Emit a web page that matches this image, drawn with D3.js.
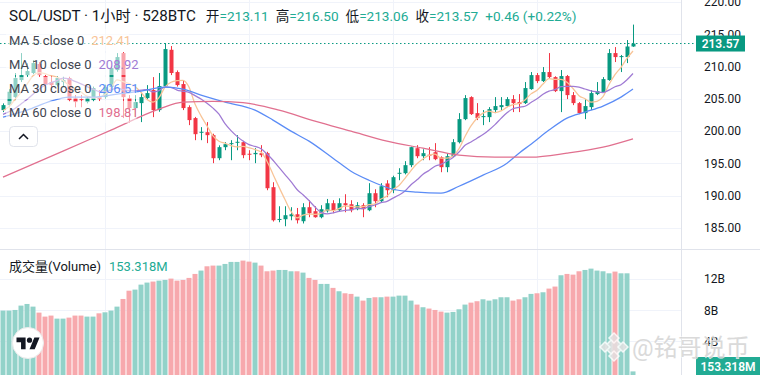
<!DOCTYPE html>
<html>
<head>
<meta charset="utf-8">
<title>SOL/USDT</title>
<script src="https://cdn.jsdelivr.net/npm/d3@7"></script>
<style>
  * { margin:0; padding:0; }
  body { background:#fff; width:760px; height:375px; overflow:hidden; }
  svg { display:block; font-family: Roboto, "Noto Sans CJK SC", sans-serif; }
</style>
</head>
<body>
<svg id="chart" width="760" height="375"></svg>
<script>
// hourly candles
var open = [203.26,204.03,205.27,207.91,208.68,209.0,210.4,208.53,207.6,207.13,207.6,208.22,205.1,204.96,204.5,204.81,205.27,205.27,206.82,209.46,
  212.09,205.12,203.57,204.34,205.12,206.36,203.26,206.98,212.6,209.15,207.29,203.72,202.02,199.75,199.84,199.38,195.81,197.52,198.0,198.2,
  198.29,196.5,196.43,196.59,196.59,191.32,186.3,186.36,186.82,187.13,186.05,188.22,187.6,186.67,187.6,188.84,187.75,188.84,188.68,187.91,
  188.53,187.75,190.39,189.15,191.9,190.85,193.4,193.49,194.73,197.36,196.12,196.35,196.74,195.97,194.42,196.12,198.29,201.86,205.27,202.79,
  202.17,202.17,203.26,203.72,203.88,204.96,204.5,204.34,206.51,208.68,207.75,209.15,208.37,206.2,208.53,205.58,204.34,202.79,203.72,205.74,
  206.05,207.91,212.09,211.5,211.47,213.11];
var high = [204.3,206.5,209.0,212.09,210.5,211.0,210.7,208.7,208.68,208.5,208.4,208.4,205.6,205.6,205.3,206.9,206.36,207.2,210.0,212.09,
  212.25,205.58,205.58,205.89,207.13,208.37,209.0,213.64,213.18,209.4,207.91,204.0,202.2,200.62,201.4,199.6,197.8,198.29,198.6,199.38,
  198.5,197.05,197.36,197.83,196.8,192.09,188.37,188.37,188.22,188.1,188.84,189.3,188.37,188.53,189.5,189.3,189.6,190.23,189.3,189.0,
  188.84,191.94,191.0,191.94,192.4,193.1,194.26,195.35,197.6,197.83,197.2,197.52,198.14,196.1,196.59,198.76,202.79,205.58,205.4,204.34,
  203.26,203.72,205.27,205.27,205.27,205.58,205.74,207.6,209.15,209.0,209.92,212.09,208.5,209.46,208.7,206.05,204.5,204.96,206.36,207.6,
  208.37,212.71,213.02,211.8,214.11,216.50];
var low = [202.95,203.7,204.8,207.6,208.4,208.8,208.4,207.0,206.36,206.9,206.8,204.6,203.7,203.7,204.3,204.6,204.65,205.0,206.6,209.2,
  202.02,201.3,202.17,201.4,204.9,202.17,203.0,206.8,208.68,206.9,203.26,200.93,198.6,198.6,198.14,195.04,195.5,197.05,195.5,197.05,
  195.81,195.5,195.04,195.97,190.85,186.0,185.89,185.27,186.2,185.7,185.7,186.67,186.6,186.5,187.4,187.29,187.6,187.44,187.44,187.75,
  186.67,187.6,188.22,189.0,189.77,190.39,192.4,193.3,194.42,195.81,195.5,195.5,195.5,193.64,193.64,196.0,198.1,201.7,202.5,201.71,
  200.93,201.4,202.79,203.26,203.72,202.95,202.95,204.2,206.4,207.44,207.6,208.2,206.05,202.95,204.96,204.03,202.64,201.86,203.26,205.58,
  205.9,207.8,210.7,209.15,210.54,213.06];
var close = [204.03,206.1,208.22,208.68,209.3,210.54,208.68,207.3,207.13,208.22,207.9,204.81,204.5,204.8,205.1,206.67,204.96,206.82,209.77,211.47,
  205.27,203.57,204.5,205.27,205.89,203.26,206.98,212.71,209.0,207.13,203.57,201.71,199.53,199.9,199.38,195.81,197.52,197.98,198.14,198.35,
  196.28,196.35,196.63,196.28,191.16,186.2,186.4,186.98,187.13,186.2,188.22,187.29,186.67,187.91,188.84,187.75,188.84,188.53,187.75,188.53,
  187.91,190.39,189.15,191.47,190.85,192.87,193.55,194.73,197.52,196.12,196.59,196.25,195.66,194.42,196.12,198.29,201.86,205.12,202.64,202.02,
  202.33,203.41,203.88,204.03,204.96,204.34,204.19,206.67,208.68,207.75,209.15,208.37,206.2,208.53,205.58,204.34,202.79,203.88,205.89,206.2,
  208.06,212.09,211.47,211.62,213.11,213.57];
// volume, billions
var volume = [7.95,7.95,8.03,8.59,8.8,8.46,7.69,7.18,7.31,6.92,6.92,7.05,7.31,7.31,7.18,7.18,7.6,7.73,7.95,8.46,
  9.44,10.5,10.64,11.28,11.54,11.67,11.79,11.88,12.05,11.79,11.88,12.14,12.65,13.08,13.63,13.72,13.72,13.93,14.19,14.19,
  14.36,14.23,14.1,13.72,12.99,13.08,13.16,13.16,12.99,12.99,12.82,12.14,11.88,11.37,11.37,10.86,10.43,10.17,10.09,9.74,
  9.23,9.57,9.66,9.66,9.74,9.74,9.87,9.87,9.23,8.72,8.38,8.21,8.03,7.82,7.69,7.78,8.12,8.72,8.97,9.15,
  9.4,9.23,9.4,9.66,9.66,9.23,9.4,9.66,10.09,10.17,10.3,10.77,11.03,12.48,12.65,12.56,12.99,13.16,13.33,13.08,
  12.99,12.73,12.95,12.73,12.73,0.153318];
var ma5 = [203.2,203.8,204.9,206.0,207.27,208.57,209.08,208.9,208.59,208.37,207.85,207.07,206.51,206.05,205.42,205.18,205.21,205.67,206.66,207.94,
  207.66,207.38,206.92,206.02,204.9,204.5,205.18,206.82,207.57,207.82,207.88,206.82,204.19,202.37,200.82,199.27,198.43,198.12,197.77,197.56,
  197.65,197.42,197.15,196.78,195.34,193.32,191.33,189.4,187.57,186.58,186.99,187.16,187.1,187.26,187.79,187.69,188.0,188.37,188.34,188.28,
  188.31,188.62,188.75,189.49,189.95,190.95,191.58,192.69,193.9,194.96,195.7,196.24,196.43,195.81,195.81,196.15,197.27,199.16,200.81,201.99,
  202.79,203.1,202.86,203.13,203.72,204.12,204.28,204.84,205.77,206.33,207.29,208.12,208.03,208.0,207.57,206.6,205.49,205.02,204.5,204.62,
  205.36,207.22,208.74,209.89,211.27,212.41];
var ma10 = [202.6,203.0,203.5,204.2,204.9,205.7,206.5,207.1,207.5,207.82,208.21,208.08,207.71,207.32,206.9,206.51,206.14,206.09,206.36,206.68,
  206.42,206.29,206.29,206.34,206.42,206.08,206.28,206.87,206.79,206.36,206.19,206.0,205.5,204.97,204.32,203.57,202.63,201.15,200.07,199.19,
  198.46,197.92,197.63,197.27,196.45,195.49,194.38,193.28,192.18,190.96,190.16,189.25,188.25,187.42,187.18,187.34,187.58,187.74,187.8,188.03,
  188.0,188.31,188.56,188.92,189.12,189.63,190.1,190.72,191.7,192.46,193.32,193.91,194.56,194.86,195.38,195.93,196.76,197.8,198.31,198.9,
  199.47,200.19,201.01,201.97,202.85,203.46,203.69,203.85,204.45,205.02,205.71,206.2,206.43,206.88,206.95,206.95,206.81,206.53,206.25,206.09,
  205.98,206.36,206.88,207.19,207.95,208.92];
var ma30Idx = [0,4,8,11,15,19,23,27,30,33,37,42,45,48,51,55,58,61,65,69,73,76,80,84,86,88,91,94,97,100,103,105];
var ma30 = [202.17,203.26,204.65,205.27,205.27,205.74,206.2,206.82,206.51,205.58,204.5,203.26,201.71,200.0,198.45,195.81,193.8,192.4,191.0,190.54,
  190.39,191.47,193.18,195.04,196.59,197.98,200.16,202.02,202.95,203.88,205.27,206.51];
var ma60Idx = [0,10,18,26,30,35,40,46,52,58,64,70,76,82,88,94,100,105];
var ma60 = [192.87,196.9,200.16,203.41,204.5,204.6,204.4,203.26,201.55,200.0,198.45,197.36,196.28,195.97,195.97,196.59,197.52,198.81];

var priceTicks = [185,190,195,200,205,210,215,220];
var volTicks = [4,8,12];
var volTickLabels = ['4B','8B','12B'];
var dayIdx = [17,41,65,89];

var UP = '#089981', DOWN = '#f23645';
var UP_VOL = '#92d2c9', DOWN_VOL = '#f7a9ad';
var maColors = ['#f8c497','#a07bd4','#5b8cf6','#e1708f'];

var svg = d3.select('#chart');
var x = d3.scaleLinear().domain([0,105]).range([3,633]);
var y = d3.scaleLinear().domain([185,220]).range([228,2]);
var yv = d3.scaleLinear().domain([0,12]).range([372.6,279]);
var last = close.length - 1;

// grid
var grid = svg.append('g');
grid.selectAll('.hp').data(priceTicks).enter().append('line')
  .attr('x1',0).attr('x2',681).attr('y1',d=>Math.round(y(d))+0.5).attr('y2',d=>Math.round(y(d))+0.5)
  .attr('stroke','#f0f3fa');
grid.selectAll('.hv').data(volTicks).enter().append('line')
  .attr('x1',0).attr('x2',681).attr('y1',d=>Math.round(yv(d))+0.5).attr('y2',d=>Math.round(yv(d))+0.5)
  .attr('stroke','#f0f3fa');
grid.selectAll('.vd').data(dayIdx).enter().append('line')
  .attr('x1',d=>Math.round(x(d))+0.5).attr('x2',d=>Math.round(x(d))+0.5).attr('y1',0).attr('y2',375)
  .attr('stroke','#f0f3fa');
svg.append('line').attr('x1',681.5).attr('x2',681.5).attr('y1',0).attr('y2',375).attr('stroke','#e0e3eb');
svg.append('line').attr('x1',0).attr('x2',760).attr('y1',249.5).attr('y2',249.5).attr('stroke','#e0e3eb');

// volume
var idx = d3.range(close.length);
svg.append('g').selectAll('rect').data(idx).enter().append('rect')
  .attr('x',i=>x(i)-2.5).attr('width',5)
  .attr('y',i=>yv(volume[i])).attr('height',i=>376-yv(volume[i]))
  .attr('fill',i=>close[i]>=open[i]?UP_VOL:DOWN_VOL);

// candles
var cg = svg.append('g');
cg.selectAll('line').data(idx).enter().append('line')
  .attr('x1',i=>Math.round(x(i))+0.5).attr('x2',i=>Math.round(x(i))+0.5)
  .attr('y1',i=>y(high[i])).attr('y2',i=>y(low[i]))
  .attr('stroke',i=>close[i]>=open[i]?UP:DOWN);
cg.selectAll('rect').data(idx).enter().append('rect')
  .attr('x',i=>Math.round(x(i))-1.5).attr('width',4)
  .attr('y',i=>y(Math.max(open[i],close[i])))
  .attr('height',i=>Math.max(1,Math.abs(y(open[i])-y(close[i]))))
  .attr('fill',i=>close[i]>=open[i]?UP:DOWN);

// moving averages
var line = d3.line().x(d=>x(d[0])).y(d=>y(d[1])).curve(d3.curveMonotoneX);
var maSeries = [
  idx.map(i=>[i,ma5[i]]),
  idx.map(i=>[i,ma10[i]]),
  ma30Idx.map((k,j)=>[k,ma30[j]]),
  ma60Idx.map((k,j)=>[k,ma60[j]])
];
svg.append('g').selectAll('path').data(maSeries).enter().append('path')
  .attr('d',line).attr('fill','none').attr('stroke-width',1.25)
  .attr('stroke',(d,j)=>maColors[j]);

// last price line
svg.append('line').attr('x1',0).attr('x2',696).attr('y1',y(close[last])).attr('y2',y(close[last]))
  .attr('stroke',UP).attr('stroke-dasharray','1.5,2.5');

// price axis
var ax = svg.append('g').attr('transform','translate(704,0)')
  .call(d3.axisRight(y).tickValues(priceTicks).tickFormat(d3.format('.2f')).tickSize(0).tickPadding(0));
ax.select('.domain').remove();
ax.selectAll('text').attr('font-size',12).attr('fill','#131722').attr('font-family','Roboto, sans-serif');

var vax = svg.append('g').attr('transform','translate(704,0)')
  .call(d3.axisRight(yv).tickValues(volTicks).tickFormat((d,j)=>volTickLabels[j]).tickSize(0).tickPadding(0));
vax.select('.domain').remove();
vax.selectAll('text').attr('font-size',12).attr('fill','#131722').attr('font-family','Roboto, sans-serif');

svg.append('rect').attr('x',696).attr('y',y(close[last])-8).attr('width',49).attr('height',16).attr('fill',UP);
svg.append('text').attr('x',720.5).attr('y',y(close[last])+4.5).attr('text-anchor','middle')
  .attr('font-size',12).attr('font-weight',600).attr('fill','#fff').text(close[last].toFixed(2));

// legend
var legendRows = [
  {label:'MA 5 close 0', value:ma5[last]},
  {label:'MA 10 close 0', value:ma10[last]},
  {label:'MA 30 close 0', value:ma30[ma30.length-1]},
  {label:'MA 60 close 0', value:ma60[ma60.length-1]}
];
var lg = svg.append('g');
legendRows.forEach(function(r,j){
  var cy = 40 + j*24;
  var bg = lg.append('rect').attr('x',6).attr('y',cy-11).attr('height',22).attr('fill','#fff').attr('fill-opacity',0.55);
  var t = lg.append('text').attr('x',9).attr('y',cy+4.5).attr('font-size',13);
  t.append('tspan').attr('fill','#434651').text(r.label);
  t.append('tspan').attr('dx',7).attr('fill',maColors[j]).text(r.value.toFixed(2));
  bg.attr('width',t.node().getComputedTextLength()+8);
});

// title
var chg = close[last]-close[last-1];
var title = svg.append('text').attr('x',9).attr('y',21).attr('font-size',15.2).attr('fill','#131722');
title.append('tspan').text('SOL/USDT · 1小时 · 528BTC');
var ohlc = [['开',open[last]],['高',high[last]],['低',low[last]],['收',close[last]]];
ohlc.forEach(function(p,j){
  title.append('tspan').attr('dx',j?7:10).attr('font-size',13.6).text(p[0]);
  title.append('tspan').attr('font-size',13.6).attr('fill','#22ab94').text('='+p[1].toFixed(2));
});
title.append('tspan').attr('dx',7).attr('font-size',13.6).attr('fill','#22ab94')
  .text('+'+chg.toFixed(2)+' (+'+(chg/close[last-1]*100).toFixed(2)+'%)');

// collapse button
svg.append('rect').attr('x',9.5).attr('y',126.5).attr('width',28).attr('height',20).attr('rx',4)
  .attr('fill','#fff').attr('stroke','#e0e3eb');
svg.append('path').attr('d','M19,139 L23.5,134.5 L28,139').attr('fill','none').attr('stroke','#131722').attr('stroke-width',1.5);

// volume legend
var vt = svg.append('text').attr('x',9).attr('y',271).attr('font-size',13);
vt.append('tspan').attr('fill','#131722').text('成交量(Volume)');
vt.append('tspan').attr('dx',8).attr('fill','#22ab94').text((volume[last]*1000).toFixed(3)+'M');
svg.append('rect').attr('x',696).attr('y',357).attr('width',64).attr('height',18).attr('fill','#22ab94');
svg.append('text').attr('x',728).attr('y',370.5).attr('text-anchor','middle').attr('font-size',12)
  .attr('font-weight',600).attr('fill','#fff').text((volume[last]*1000).toFixed(3)+'M');

// TV logo
svg.append('circle').attr('cx',28).attr('cy',343).attr('r',15.5).attr('fill','#fff').attr('stroke','#ebebeb');
svg.append('g').attr('transform','translate(16.5,335) scale(0.65)')
  .call(function(g){
    g.append('path').attr('d','M14 22H7V11H0V4h14v18zM28 22h-8l7.5-18h8L28 22z').attr('fill','#131722');
    g.append('circle').attr('cx',20).attr('cy',8).attr('r',4).attr('fill','#131722');
  });

// watermark
var wm = svg.append('g').attr('opacity',0.85);
var dia = [[0,0,7],[-9,0,3.5],[9,0,3.5],[0,-9,3.5],[0,9,3.5]];
wm.selectAll('rect').data(dia).enter().append('rect')
  .attr('x',d=>-d[2]).attr('y',d=>-d[2]).attr('width',d=>d[2]*2).attr('height',d=>d[2]*2)
  .attr('transform',d=>'translate('+(614+d[0])+','+(347+d[1])+') rotate(45)')
  .attr('fill','#e2e2e2').attr('stroke','#fff').attr('stroke-width',1.5);
wm.append('text').attr('x',632).attr('y',356).attr('font-size',24)
  .attr('fill','#d4d4d4').attr('stroke','#fff').attr('stroke-width',1).attr('paint-order','stroke')
  .text('@铭哥说币');
</script>
</body>
</html>
